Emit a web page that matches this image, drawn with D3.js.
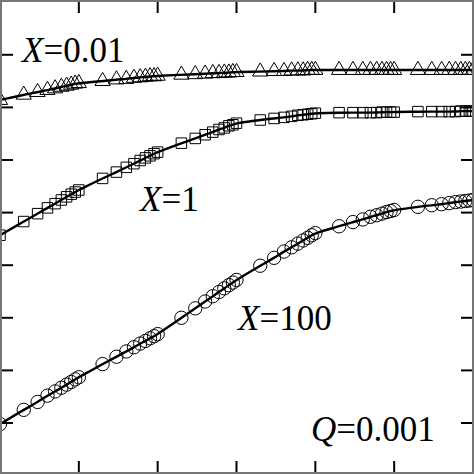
<!DOCTYPE html>
<html lang="en">
<head>
<meta charset="UTF-8">
<script src="https://cdn.jsdelivr.net/npm/d3@7"></script>
<style>
  body { margin: 0; background: #fff; }
  text { font-family: "Liberation Serif", "Times New Roman", Times, serif; font-size: 35px; fill: #000; }
</style>
</head>
<body>
<svg id="chart" width="474" height="474"></svg>
<script>
// x values: 1..10 per decade, 10^0 .. 10^6
var xs = [1];
for (var k = 0; k < 6; k++) for (var m = 2; m <= 10; m++) xs.push(m * Math.pow(10, k));

var triangles = [7.14,
  7.24,7.29,7.33,7.36,7.39,7.41,7.43,7.45,7.46,
  7.50,7.53,7.54,7.56,7.57,7.58,7.59,7.59,7.60,
  7.62,7.63,7.64,7.65,7.65,7.66,7.66,7.67,7.67,
  7.68,7.69,7.69,7.70,7.70,7.70,7.71,7.71,7.71,
  7.71,7.71,7.71,7.71,7.71,7.71,7.71,7.71,7.71,
  7.71,7.71,7.71,7.71,7.71,7.71,7.71,7.71,7.71];
var squares = [4.57,
  4.83,4.98,5.09,5.17,5.24,5.30,5.35,5.39,5.43,
  5.65,5.77,5.86,5.93,5.99,6.04,6.08,6.12,6.15,
  6.32,6.41,6.48,6.53,6.58,6.61,6.65,6.67,6.70,
  6.76,6.79,6.81,6.83,6.85,6.86,6.87,6.88,6.89,
  6.90,6.90,6.90,6.90,6.90,6.91,6.91,6.91,6.91,
  6.92,6.92,6.92,6.92,6.92,6.93,6.93,6.93,6.93];
var circles = [0.98,
  1.25,1.40,1.52,1.60,1.67,1.73,1.78,1.83,1.87,
  2.12,2.26,2.36,2.44,2.51,2.56,2.61,2.65,2.69,
  3.00,3.18,3.31,3.41,3.49,3.56,3.62,3.67,3.72,
  3.99,4.14,4.26,4.34,4.41,4.47,4.52,4.57,4.61,
  4.74,4.82,4.87,4.92,4.95,4.98,5.01,5.03,5.05,
  5.11,5.14,5.16,5.18,5.20,5.21,5.22,5.23,5.24];

var xTicks = [10, 100, 1000, 10000, 100000];
var yTicks = [1, 2, 3, 4, 5, 6, 7, 8];

var W = 474, H = 474;
var x = d3.scaleLog().domain([1, 1e6]).range([0, 473]);
var y = d3.scaleLinear().domain([0, 9]).range([475.6, 2.2]);

var svg = d3.select("#chart");
svg.append("defs").append("clipPath").attr("id", "clip")
  .append("rect").attr("x", 2).attr("y", 2).attr("width", W - 4).attr("height", H - 4);

var plot = svg.append("g").attr("clip-path", "url(#clip)");
var line = d3.line().x(function (d) { return x(d[0]); }).y(function (d) { return y(d[1]); })
  .curve(d3.curveBasis);

var series = [
  { vals: triangles, sym: d3.symbolTriangle, size: 100 },
  { vals: squares, sym: d3.symbolSquare, size: 110 },
  { vals: circles, sym: d3.symbolCircle, size: 140 }
];

series.forEach(function (s) {
  var pts = xs.map(function (v, i) { return [v, s.vals[i]]; });
  plot.append("path").datum(pts).attr("d", line)
    .attr("fill", "none").attr("stroke", "#000").attr("stroke-width", 2.4);
  plot.selectAll(null).data(pts).enter().append("path")
    .attr("transform", function (d) { return "translate(" + x(d[0]) + "," + y(d[1]) + ")"; })
    .attr("d", d3.symbol().type(s.sym).size(s.size))
    .attr("fill", "none").attr("stroke", "#000").attr("stroke-width", 1);
});

// ticks on all four sides
var T = 13;
var axes = svg.append("g").attr("stroke", "#000").attr("stroke-width", 2);
xTicks.forEach(function (t) {
  axes.append("line").attr("x1", x(t)).attr("x2", x(t)).attr("y1", 0).attr("y2", T);
  axes.append("line").attr("x1", x(t)).attr("x2", x(t)).attr("y1", H).attr("y2", H - T);
});
yTicks.forEach(function (t) {
  axes.append("line").attr("x1", 0).attr("x2", T).attr("y1", y(t)).attr("y2", y(t));
  axes.append("line").attr("x1", W).attr("x2", W - T).attr("y1", y(t)).attr("y2", y(t));
});

svg.append("rect").attr("x", 1).attr("y", 1).attr("width", W - 2).attr("height", H - 2)
  .attr("fill", "none").attr("stroke", "#777").attr("stroke-width", 2);

function label(px, py, v, val) {
  var t = svg.append("text").attr("x", px).attr("y", py);
  t.append("tspan").attr("font-style", "italic").text(v);
  t.append("tspan").text("=" + val);
}
label(22, 62, "X", "0.01");
label(140, 211, "X", "1");
label(238, 330, "X", "100");
label(311, 441, "Q", "0.001");
</script>
</body>
</html>
